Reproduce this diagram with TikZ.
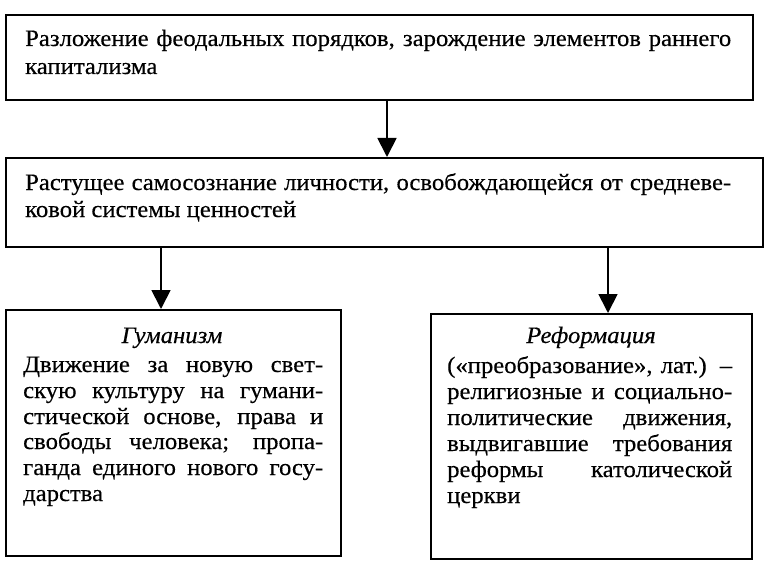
\documentclass[tikz,border=0pt]{standalone}
\usepackage{fontspec}
\setmainfont[FakeStretch=1.05,FakeBold=0.4]{Liberation Serif}
\usetikzlibrary{arrows.meta}
\tikzset{
  boxshape/.style={draw=black, line width=2pt, rectangle, inner sep=0pt, anchor=north west},
  txt/.style={anchor=base west, inner sep=0pt, font=\fontsize{23.5}{27}\selectfont},
  ttl/.style={anchor=base, inner sep=0pt, font=\fontsize{23.5}{27}\selectfont\itshape},
  arr/.style={line width=1.8pt, -{Triangle[width=19pt,length=19pt]}}
}
\begin{document}
\begin{tikzpicture}[x=1pt,y=-1pt]
\useasboundingbox (0,0) rectangle (768,567);
% boxes
\node[boxshape, minimum width=747pt, minimum height=85pt] (b1) at (5,14) {};
\node[boxshape, minimum width=757pt, minimum height=89pt] (b2) at (5,157) {};
\node[boxshape, minimum width=335pt, minimum height=246pt] (b3) at (5,309) {};
\node[boxshape, minimum width=321pt, minimum height=245pt] (b4) at (430,313) {};
% box 1 text
\node[txt] (b1a) at (25,46) {\makebox[706pt][s]{Разложение феодальных порядков, зарождение элементов раннего}};
\node[txt] (b1b) at (25,74) {капитализма};
% box 2 text
\node[txt] (b2a) at (25,190) {\makebox[706pt][s]{Растущее самосознание личности, освобождающейся от средневе-}};
\node[txt] (b2b) at (25,217) {ковой системы ценностей};
% box 3 text
\node[ttl] (b3t) at (172,343) {Гуманизм};
\node[txt] (b3a) at (23,372) {\makebox[300pt][s]{Движение за новую свет-}};
\node[txt] (b3b) at (23,398) {\makebox[300pt][s]{скую культуру на гумани-}};
\node[txt] (b3c) at (23,424) {\makebox[300pt][s]{стической основе, права и}};
\node[txt] (b3d) at (23,449) {\makebox[300pt][s]{свободы человека; пропа-}};
\node[txt] (b3e) at (23,475) {\makebox[300pt][s]{ганда единого нового госу-}};
\node[txt] (b3f) at (23,501) {дарства};
% box 4 text
\node[ttl] (b4t) at (591,343) {Реформация};
\node[txt] (b4a) at (447,373) {\makebox[285pt][s]{(«преобразование», лат.) –}};
\node[txt] (b4b) at (447,399) {\makebox[285pt][s]{религиозные и социально-}};
\node[txt] (b4c) at (447,425) {\makebox[285pt][s]{политические движения,}};
\node[txt] (b4d) at (447,451) {\makebox[285pt][s]{выдвигавшие требования}};
\node[txt] (b4e) at (447,477) {\makebox[285pt][s]{реформы католической}};
\node[txt] (b4f) at (447,503) {церкви};
% arrows
\coordinate (x1) at (387,0);
\coordinate (x2) at (161,0);
\coordinate (x3) at (608,0);
\draw[arr] (x1 |- b1.south) -- (x1 |- b2.north);
\draw[arr] (x2 |- b2.south) -- (x2 |- b3.north);
\draw[arr] (x3 |- b2.south) -- (x3 |- b4.north);
\end{tikzpicture}
\end{document}
